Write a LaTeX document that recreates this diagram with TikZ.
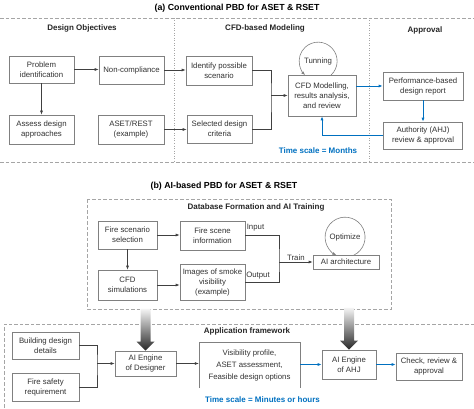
\documentclass[tikz,border=0pt]{standalone}
\usepackage{fontspec}
\setmainfont{Liberation Sans}
\usetikzlibrary{arrows.meta,calc}
\definecolor{boxline}{RGB}{128,128,128}
\definecolor{txt}{RGB}{50,50,50}
\definecolor{flow}{RGB}{0,112,192}
\definecolor{frame}{RGB}{165,165,165}
\newcommand{\GradArrow}[1]{%
  \shade[top color=gray!8,bottom color=black!85]
    ($(#1)+(-5,-42)$) -- ($(#1)+(5,-42)$) -- ($(#1)+(5,-9)$) -- ($(#1)+(9,-9)$)
    -- (#1) -- ($(#1)+(-9,-9)$) -- ($(#1)+(-5,-9)$) -- cycle;}

\begin{document}
\begin{tikzpicture}[x=1pt,y=-1pt,
  every node/.style={font=\fontsize{7.8}{10}\selectfont,text=txt,inner sep=1pt},
  blk/.style={draw=boxline,fill=white,line width=0.6pt,align=center},
  sz/.style 2 args={minimum width=#1pt,minimum height=#2pt},
  hdr/.style={font=\bfseries\fontsize{8}{10}\selectfont,text=black!85},
  ttl/.style={font=\bfseries\fontsize{8.8}{10}\selectfont,text=black},
  tscale/.style={font=\bfseries\fontsize{8}{10}\selectfont,text=flow},
  arr/.style={-{Latex[length=4pt,width=3pt]},black!75,line width=0.6pt},
  ln/.style={black!75,line width=0.6pt},
  barr/.style={-{Latex[length=4pt,width=3pt]},flow,line width=0.8pt},
  dashln/.style={frame,line width=0.6pt,dash pattern=on 3.5pt off 2pt},
  dotln/.style={frame,line width=0.6pt,dash pattern=on 1pt off 1.5pt},
  loopc/.style={circle,draw=none,inner sep=0pt}]
  \useasboundingbox (0,0) rectangle (474,409);

  % (a) conventional
  \node[ttl] (ta) at (237,8) {(a) Conventional PBD for ASET \& RSET};
  \draw[dashln] (0,18) -- (474,18);
  \draw[dashln] (0,162) -- (474,162);
  \draw[dotln] (174,18) -- (174,162);
  \draw[dotln] (369,18) -- (369,162);
  \node[hdr] (h1) at (82,28) {Design Objectives};
  \node[hdr] (h2) at (265,28) {CFD-based Modeling};
  \node[hdr] (h3) at (425,30) {Approval};

  \node[blk,sz={65}{27}] (prob) at (41.5,69.5) {Problem\\identification};
  \node[blk,sz={65}{28}] (noncomp) at (131.5,70) {Non-compliance};
  \node[blk,sz={66}{29}] (ident) at (219,70.5) {Identify possible\\scenario};
  \node[blk,sz={65}{29}] (assess) at (41.5,129.5) {Assess design\\approaches};
  \node[blk,sz={66}{29}] (asetrest) at (131,129.5) {ASET/REST\\(example)};
  \node[blk,sz={65}{28}] (select) at (219.5,129) {Selected design\\criteria};
  \node[loopc,minimum size=38pt] (tune) at (318,61) {Tunning};
  \draw[arr,draw=boxline] (tune.-47) arc[start angle=47,end angle=-227,radius=19];
  \node[blk,sz={68}{41}] (cfdmod) at (322,95.5) {CFD Modelling,\\results analysis,\\and review};
  \node[blk,sz={80}{28}] (perf) at (423,86) {Performance-based\\design report};
  \node[blk,sz={79}{27}] (auth) at (423,135.5) {Authority (AHJ)\\review \& approval};
  \node[tscale] (tsa) at (318,151) {Time scale = Months};

  \draw[arr] (prob.east) -- (prob.east -| noncomp.west);
  \draw[arr] (prob.south) -- (assess.north);
  \draw[arr] (noncomp.east) -- (noncomp.east -| ident.west);
  \draw[arr] (asetrest.east) -- (asetrest.east -| select.west);
  \coordinate (cfdjoin) at (271,95.5);
  \draw[ln] (ident.east) -| (cfdjoin) |- (select.east);
  \draw[arr] (cfdjoin) -- (cfdmod.west);
  \draw[barr] (cfdmod.east |- perf.west) -- (perf.west);
  \draw[barr] (perf.south) -- (auth.north);
  \draw[barr] (auth.west) -| (cfdmod.south);

  % (b) AI-based
  \node[ttl] (tb) at (224,186) {(b) AI-based PBD for ASET \& RSET};
  \draw[dashln] (87,199) rectangle (391,309);
  \node[hdr] (h4) at (256,207) {Database Formation and AI Training};
  \node[blk,sz={59}{28}] (fsel) at (127.5,235) {Fire scenario\\selection};
  \node[blk,sz={65}{29}] (fscene) at (212.5,235.5) {Fire scene\\information};
  \node[blk,sz={59}{30}] (cfdsim) at (127.5,285) {CFD\\simulations};
  \node[blk,sz={65}{36}] (images) at (212.5,282) {Images of smoke\\visibility\\(example)};
  \node[loopc,minimum size=40pt] (opt) at (345,237) {Optimize};
  \draw[arr,draw=boxline] (opt.-64) arc[start angle=64,end angle=-244,radius=20];
  \node[blk,sz={66}{14}] (aiarch) at (346,262) {AI architecture};
  \node (inp) at (255.5,228) {Input};
  \node (outp) at (258,276) {Output};

  \draw[arr] (fsel.east) -- (fsel.east -| fscene.west);
  \draw[arr] (fsel.south) -- (cfdsim.north);
  \draw[arr] (cfdsim.east) -- (cfdsim.east -| images.west);
  \coordinate (trainjoin) at (279,262);
  \draw[ln] (fscene.east) -| (trainjoin) |- (images.east);
  \draw[arr] (trainjoin) -- node[above] (train) {Train} (aiarch.west);

  \draw[dashln] (474,324) -| (4,409);
  \node[hdr] (h5) at (247,331) {Application framework};
  \node[blk,sz={67}{27}] (build) at (45.5,345.5) {Building design\\details};
  \node[blk,sz={67}{28}] (fsafe) at (45.5,387) {Fire safety\\requirement};
  \node[blk,sz={61}{25}] (aides) at (145.5,363.5) {AI Engine\\of Designer};
  \node[align=center,sz={101}{46},font=\fontsize{7.8}{12}\selectfont] (visib) at (249.5,365)
    {Visibility profile,\\ASET assessment,\\Feasible design options};
  \draw[boxline,line width=0.6pt] (visib.south west) |- (visib.north east) -- (visib.south east);
  \node[blk,sz={54}{29}] (aiahj) at (349,364.5) {AI Engine\\of AHJ};
  \node[blk,sz={66}{27}] (check) at (429,366.5) {Check, review \&\\approval};
  \node[tscale] (tsb) at (262.5,400) {Time scale = Minutes or hours};

  \coordinate (appjoin) at (97,363.5);
  \draw[ln] (build.east) -| (appjoin) |- (fsafe.east);
  \draw[arr] (appjoin) -- (aides.west);
  \draw[arr] (aides.east) -- (aides.east -| visib.west);
  \draw[barr] (visib.east |- aiahj.west) -- (aiahj.west);
  \draw[barr] (aiahj.east) -- (aiahj.east -| check.west);

  \GradArrow{aides.north}
  \GradArrow{aiahj.north}
\end{tikzpicture}
\end{document}
